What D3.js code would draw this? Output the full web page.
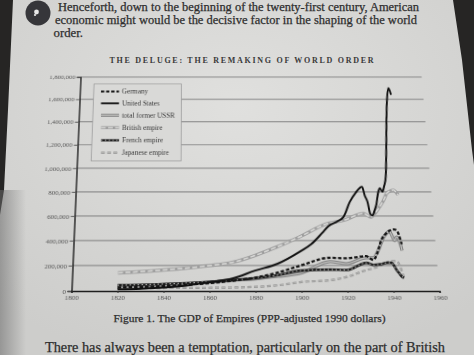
<!DOCTYPE html>
<html><head><meta charset="utf-8">
<script src="https://cdn.jsdelivr.net/npm/d3@7"></script>
<style>
html,body{margin:0;padding:0;background:#262524;overflow:hidden;}
#wrap{position:relative;width:474px;height:355px;overflow:hidden;}
#bg{position:absolute;left:0;top:0;}
#chart{position:absolute;left:-20px;top:-60px;transform-origin:273px 351px;
  transform:perspective(517px) rotateX(10deg) skewX(1.1deg);}
</style></head><body>
<div id="wrap"><svg id="bg" width="474" height="355"></svg><svg id="chart" width="520" height="440"></svg></div>
<script>
// ---- data (GDP, thousands of 1990 dollars) ----
const xTicks = [1800,1820,1840,1860,1880,1900,1920,1940,1960];
const yTicks = [0,200000,400000,600000,800000,1000000,1200000,1400000,1600000,1800000];
const seriesNames = ["Germany","United States","total former USSR","British empire","French empire","Japanese empire"];

const usYears = [1820,1830,1840,1850,1860,1870,1880,1890,1900,1905,1910,1913,1917,1920,1923,1926,1929,1930,1931,1932,1933,1934,1935,1936,1937,1938,1939,1940,1941,1942,1943,1944,1945];
const usGDP   = [12.5,18,27,42.5,69,98,160,215,312,370,460,517,555,594,713,794,843,768,719,616,603,649,699,790,832,800,850,930,1150,1400,1600,1700,1640];

const britYears = [1820,1840,1860,1870,1880,1890,1900,1913,1920,1929,1931,1932,1934,1936,1938,1940,1942,1943,1944,1945];
const britGDP   = [142,165,200,225,280,350,430,540,565,620,600,590,620,670,720,790,810,815,800,775];

const gerYears = [1820,1850,1870,1880,1890,1900,1913,1920,1929,1932,1934,1936,1938,1940,1942,1943,1944,1945];
const gerGDP   = [27,48,80,105,145,200,262,258,275,245,300,400,450,480,490,485,450,370];

const ussrYears = [1820,1850,1870,1880,1890,1900,1913,1920,1929,1932,1935,1937,1939,1940,1941,1942,1943,1944,1945];
const ussrGDP   = [38,55,84,95,115,140,232,215,262,262,340,420,465,475,440,400,430,400,320];

const freYears = [1820,1850,1870,1880,1890,1900,1913,1920,1929,1932,1935,1938,1940,1941,1942,1943,1944,1945];
const freGDP   = [45,62,85,100,125,160,168,165,222,205,210,222,222,200,165,140,115,102];

const japYears = [1820,1850,1870,1890,1900,1913,1920,1929,1932,1935,1938,1940,1942,1943,1944,1945];
const japGDP   = [21,24,27,45,70,85,110,165,180,200,225,235,235,222,170,105];

// ---- perspective helpers (photo of a page) ----
const OX=253, OY=291, D=517, A=10*Math.PI/180, K=Math.tan(1.1*Math.PI/180);
function inv(xs, ys){ const w=ys-OY; const v=w*D/(D*Math.cos(A)+w*Math.sin(A)); const s=D/(D-v*Math.sin(A)); return [OX+(xs-OX)/s - v*K, OY+v]; }

// ---- background page ----
const bg = d3.select("#bg");
const defs = bg.append("defs");
const rg = defs.append("radialGradient").attr("id","pg").attr("cx","0.5").attr("cy","0.3").attr("r","0.75");
rg.append("stop").attr("offset","0").attr("stop-color","#e0e0de");
rg.append("stop").attr("offset","1").attr("stop-color","#cdcdcb");
const lg = defs.append("linearGradient").attr("id","ls").attr("x1","0").attr("x2","1");
lg.append("stop").attr("offset","0").attr("stop-color","#6a6a6a").attr("stop-opacity","0.55");
lg.append("stop").attr("offset","1").attr("stop-color","#6a6a6a").attr("stop-opacity","0");
bg.append("rect").attr("width",474).attr("height",355).attr("fill","#262524");
bg.append("polygon").attr("points","13,0 453,0 462,60 472,150 474,165 474,355 0,355 0,215 4,190 8,110")
  .attr("fill","url(#pg)");
bg.append("rect").attr("x",0).attr("y",190).attr("width",26).attr("height",165).attr("fill","url(#ls)");
bg.append("circle").attr("cx",38).attr("cy",13).attr("r",12.5).attr("fill","#36363a");
bg.append("circle").attr("cx",36.5).attr("cy",12).attr("r",2.4).attr("fill","#e8e8e8");
bg.append("circle").attr("cx",35).attr("cy",15).attr("r",1.1).attr("fill","#e8e8e8");

const bodyFont = "'Liberation Serif', 'DejaVu Serif', serif";
function bodyText(str, x, y, len, size, extra){
  const t = bg.append("text").attr("x",x).attr("y",y).attr("font-family",bodyFont)
    .attr("font-size",size).attr("fill","#2e2e2e").attr("stroke","#2e2e2e").attr("stroke-width",0.25).text(str);
  if(len) t.attr("textLength",len).attr("lengthAdjust", extra||"spacingAndGlyphs");
  return t;
}
bodyText("Henceforth, down to the beginning of the twenty-first century, American", 58, 10.6, 361, 11.8);
bodyText("economic might would be the decisive factor in the shaping of the world", 55, 24, 362, 12.5);
bodyText("order.", 53.5, 37, 29.5, 12.5);
bodyText("THE DELUGE: THE REMAKING OF WORLD ORDER", 109.5, 62.5, 264, 8, "spacing").attr("font-weight","bold").attr("fill","#3a3a3a").attr("stroke",null);
bodyText("Figure 1. The GDP of Empires (PPP-adjusted 1990 dollars)", 113.5, 321.5, 272, 11);
bodyText("There has always been a temptation, particularly on the part of British", 45, 351.6, 400, 13.8);

// ---- chart (flat coordinates, page perspective applied by CSS) ----
const svg = d3.select("#chart");
const g = svg.append("g").attr("transform","translate(20,60)");
const x = d3.scaleLinear().domain([1800,1960]).range([71.5,439.5]);
const y = d3.scaleLinear().domain([0,1800000]).range([291,56.6]);
const labFont = "'Liberation Serif', serif";

// gridlines
g.append("g").selectAll("line").data(yTicks.slice(1)).join("line")
  .attr("x1",x(1800)).attr("x2",x(1960)).attr("y1",d=>y(d)).attr("y2",d=>y(d))
  .attr("stroke","#8c8c8c").attr("stroke-width",1.2);

// axes
const yAxis = d3.axisLeft(y).tickValues(yTicks).tickFormat(d3.format(",")).tickSize(4).tickPadding(1.5);
const ya = g.append("g").attr("transform",`translate(${x(1800)},0)`).call(yAxis);
ya.select(".domain").attr("stroke","#1e1e1e").attr("stroke-width",1.4);
ya.selectAll(".tick line").attr("stroke","#555");
ya.selectAll("text").attr("font-family",labFont).attr("font-size",7).attr("fill","#555");

const xAxis = d3.axisBottom(x).tickValues(xTicks).tickFormat(d3.format("d")).tickSize(2).tickPadding(2.5);
const xa = g.append("g").attr("transform",`translate(0,${y(0)})`).call(xAxis);
xa.select(".domain").attr("stroke","#1e1e1e").attr("stroke-width",1.5);
xa.selectAll(".tick line").attr("stroke","#333");
xa.selectAll("text").attr("font-family",labFont).attr("font-size",7).attr("fill","#555");

// series
const line = d3.line().x(d=>x(d[0])).y(d=>y(d[1]*1000)).curve(d3.curveMonotoneX);
const zip = (a,b)=>a.map((v,i)=>[v,b[i]]);
const styles = {
  "British empire":   [{s:"#9e9e9e",w:3.4},{s:"#dadad8",w:1.5,da:"5,2.5"}],
  "total former USSR":[{s:"#7c7c7c",w:3.2},{s:"#c2c2c0",w:1.2}],
  "Japanese empire":  [{s:"#8e8e8e",w:2.2,da:"4,2.5"},{s:"#c8c8c6",w:0.7,da:"4,2.5"}],
  "French empire":    [{s:"#1c1c1c",w:2.6},{s:"#cfcfcd",w:0.9,da:"1.5,2.5"}],
  "Germany":          [{s:"#141414",w:2.3,da:"3.5,2"}],
  "United States":    [{s:"#111111",w:2}]
};
const data = {
  "British empire": zip(britYears,britGDP),
  "total former USSR": zip(ussrYears,ussrGDP),
  "Japanese empire": zip(japYears,japGDP),
  "French empire": zip(freYears,freGDP),
  "Germany": zip(gerYears,gerGDP),
  "United States": zip(usYears,usGDP)
};
const drawOrder = ["British empire","total former USSR","Japanese empire","French empire","Germany","United States"];
drawOrder.forEach(name=>{
  styles[name].forEach(st=>{
    g.append("path").datum(data[name]).attr("d",line).attr("fill","none")
      .attr("stroke",st.s).attr("stroke-width",st.w).attr("stroke-dasharray",st.da||null)
      .attr("stroke-linejoin","round");
  });
});

// legend
const b0 = inv(94,84), b1 = inv(181,161);
g.append("rect").attr("x",b0[0]).attr("y",b0[1]).attr("width",b1[0]-b0[0]).attr("height",b1[1]-b0[1])
  .attr("fill","#d9d9d7").attr("stroke","#9a9a9a").attr("stroke-width",0.8);
const rowY = [91.5,103.3,115.3,127.7,140.3,152.7];
seriesNames.forEach((name,i)=>{
  const p0 = inv(101,rowY[i]), p1 = inv(119,rowY[i]), pt = inv(122,rowY[i]);
  styles[name].forEach(st=>{
    g.append("line").attr("x1",p0[0]).attr("x2",p1[0]).attr("y1",p0[1]).attr("y2",p0[1])
      .attr("stroke",st.s).attr("stroke-width",st.w).attr("stroke-dasharray",st.da||null);
  });
  g.append("text").attr("x",pt[0]).attr("y",pt[1]).attr("dy","0.33em")
    .attr("font-family",labFont).attr("font-size",7.5).attr("fill","#3a3a3a").text(name);
});
</script>
</body></html>
